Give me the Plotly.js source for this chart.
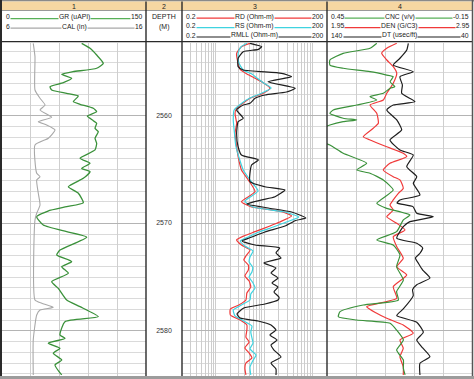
<!DOCTYPE html>
<html><head><meta charset="utf-8">
<script src="https://cdn.plot.ly/plotly-3.0.1.min.js"></script>
<style>html,body{margin:0;padding:0;background:#fff}#chart{width:474px;height:379px}</style>
</head><body><div id="chart"></div>
<script>
// ---------------- DATA ----------------
const grDepth = [2553.24,2553.70,2554.33,2555.10,2555.56,2555.88,2556.12,2556.49,2556.90,2557.27,2557.58,2557.89,2558.14,2558.67,2558.91,2559.28,2559.60,2560.00,2560.44,2560.68,2561.14,2561.46,2562.07,2562.54,2563.16,2563.93,2564.40,2564.87,2565.18,2565.80,2566.58,2567.19,2568.07,2568.44,2568.84,2569.37,2570.14,2570.76,2571.28,2572.47,2572.93,2573.55,2574.02,2574.63,2575.41,2576.03,2577.12,2577.74,2578.67,2579.13,2580.37,2580.68,2581.14,2581.61,2582.07,2582.70,2583.16,2584.09];
const grVal = [83.0,91.7,98.6,105.5,98.6,74.0,62.2,72.6,63.9,50.0,51.8,67.4,79.5,74.3,81.3,95.1,98.6,88.9,95.1,98.6,96.9,100.3,96.9,98.6,96.9,81.3,91.7,83.0,91.7,84.7,69.1,79.5,84.7,67.4,47.9,36.1,43.0,67.4,88.2,60.4,57.0,72.6,62.2,69.1,51.8,58.6,67.4,81.3,100.3,65.6,60.4,65.6,48.2,60.4,53.4,62.2,55.2,62.2];

const calDepth = [2553.24,2554.48,2557.58,2558.35,2558.98,2559.44,2560.12,2560.53,2560.84,2561.30,2562.07,2562.70,2565.33,2565.65,2565.95,2567.19,2568.28,2569.05,2569.67,2577.12,2577.42,2577.80,2578.05,2578.51,2580.84,2584.09];
const calVal = [8.17,8.29,8.29,8.64,8.99,8.64,9.45,8.52,9.10,9.68,9.22,8.29,8.41,8.64,8.41,8.52,8.64,8.41,8.29,8.29,8.76,9.56,8.64,8.41,8.17,8.17];

const rdDepth = [2553.24,2553.55,2554.17,2555.10,2555.66,2556.09,2556.49,2556.81,2557.42,2557.89,2558.35,2558.67,2559.28,2559.75,2560.68,2561.61,2562.86,2563.79,2565.02,2565.95,2567.04,2567.97,2568.44,2568.90,2569.30,2569.86,2570.23,2570.76,2571.16,2571.53,2572.00,2572.47,2573.02,2573.40,2573.86,2574.33,2574.88,2575.35,2575.91,2576.47,2577.12,2577.58,2577.95,2578.51,2578.98,2579.44,2579.91,2580.56,2581.02,2581.58,2582.05,2582.51,2582.98,2583.44,2584.09];
const rdVal = [5.1,3.4,2.7,2.9,3.2,4.4,6.5,8.9,13.2,9.6,5.1,4.0,2.7,2.5,2.7,2.5,2.7,2.9,3.4,4.7,6.5,3.4,5.3,23,37,21,13.2,6.5,3.8,2.7,3.4,5.1,4.2,3.8,4.7,4.7,4.0,4.9,5.3,4.4,4.2,3.0,2.0,2.0,3.2,4.4,4.4,4.2,4.9,4.0,4.9,5.6,4.2,4.0,4.2];

const rsDepth = [2553.24,2553.58,2554.14,2555.07,2555.72,2556.09,2556.47,2556.93,2557.40,2557.86,2558.33,2558.79,2559.44,2560.37,2561.30,2562.79,2563.81,2565.02,2565.95,2566.98,2567.91,2568.47,2568.93,2569.40,2569.86,2570.33,2570.79,2571.26,2571.63,2572.09,2572.56,2573.12,2573.58,2574.05,2574.51,2574.98,2575.53,2576.00,2576.56,2577.12,2577.58,2578.05,2578.60,2579.07,2579.53,2580.09,2580.65,2581.12,2581.67,2582.23,2582.79,2583.35,2584.09];
const rsVal = [4.4,3.3,2.9,3.0,3.7,5.6,7.1,9.8,14,9.1,5.1,3.5,2.4,2.3,2.4,2.6,3.0,3.7,5.1,7.5,4.0,5.9,27,52,29,15.5,7.8,4.7,3.2,4.0,5.9,5.1,4.9,5.8,5.6,4.9,5.9,6.5,5.3,5.1,3.4,2.3,2.5,3.8,5.6,5.3,5.6,5.9,5.1,6.8,5.8,5.1,5.3];

const rmllDepth = [2553.24,2553.55,2553.80,2554.02,2554.63,2555.41,2555.72,2556.03,2556.34,2556.81,2557.42,2557.77,2558.05,2558.35,2558.82,2558.98,2559.44,2560.21,2560.53,2561.61,2562.86,2563.63,2564.09,2564.56,2566.11,2566.58,2566.88,2567.51,2567.81,2568.19,2568.56,2568.93,2569.49,2569.72,2570.23,2570.79,2571.35,2571.63,2572.00,2572.28,2572.74,2573.21,2573.67,2574.14,2574.60,2575.07,2575.53,2575.91,2576.37,2576.84,2577.12,2577.49,2577.86,2578.42,2578.79,2579.07,2579.44,2579.91,2580.37,2580.84,2581.30,2581.77,2582.42,2582.98,2583.53,2584.09];
const rmllVal = [5.1,8.9,7.6,3.7,2.9,2.9,3.7,23,37,12,44,29,10.4,6.5,5.1,3.7,2.7,3.7,2.9,2.7,2.9,3.4,7.6,5.5,5.1,10.4,27,16.8,9.0,4.4,12.2,37,73,45,27,10.4,4.9,3.5,6.5,21,17.6,22.4,9.9,17.6,13.9,19.4,14.6,19.4,16.0,20.3,19.4,10.4,3.8,2.75,3.2,7.5,13.9,17.6,13.2,18.5,13.9,16.0,22.4,13.9,17.6,17.6];

const cncDepth = [2553.24,2553.70,2554.17,2554.79,2555.26,2555.56,2555.88,2556.19,2556.34,2556.81,2557.27,2557.42,2557.89,2558.20,2558.51,2558.98,2559.44,2559.75,2560.21,2560.37,2560.53,2560.84,2561.12,2561.67,2562.23,2562.70,2563.47,2564.40,2565.02,2565.33,2565.95,2566.88,2568.12,2568.59,2569.21,2569.67,2570.76,2571.53,2572.00,2572.93,2574.02,2575.26,2576.34,2577.12,2577.58,2578.20,2578.67,2578.98,2579.28,2579.91,2580.84,2581.77,2582.70,2583.47,2584.09];
const cncVal = [0.244,0.272,0.383,0.438,0.438,0.383,0.272,0.203,0.176,0.189,0.169,0.189,0.217,0.272,0.244,0.327,0.424,0.438,0.383,0.327,0.383,0.438,0.47,0.52,0.49,0.438,0.383,0.286,0.327,0.272,0.217,0.176,0.244,0.203,0.107,0.134,0.162,0.244,0.176,0.148,0.162,0.134,0.162,0.155,0.300,0.396,0.403,0.327,0.189,0.162,0.134,0.162,0.134,0.134,0.127];

const denDepth = [2553.24,2553.70,2554.17,2554.79,2555.41,2556.03,2556.96,2557.89,2558.51,2558.98,2559.75,2560.68,2561.14,2561.93,2562.23,2562.86,2563.47,2563.79,2564.40,2565.02,2565.65,2565.95,2566.73,2567.19,2567.81,2568.28,2568.74,2569.37,2569.98,2570.60,2571.23,2572.16,2573.24,2574.02,2574.79,2575.88,2576.96,2577.74,2578.35,2578.82,2579.44,2580.21,2580.84,2581.61,2582.39,2583.33,2584.09];
const denVal = [2.431,2.362,2.327,2.362,2.407,2.431,2.407,2.362,2.338,2.247,2.293,2.304,2.269,2.200,2.247,2.362,2.476,2.500,2.384,2.338,2.407,2.453,2.476,2.442,2.407,2.384,2.407,2.362,2.431,2.488,2.407,2.431,2.476,2.431,2.500,2.407,2.431,2.224,2.293,2.362,2.476,2.545,2.453,2.476,2.453,2.476,2.476];

const dtDepth = [2553.24,2553.86,2554.63,2555.26,2555.88,2556.34,2557.12,2557.89,2558.67,2558.98,2559.44,2560.37,2561.30,2562.23,2563.16,2563.63,2564.72,2565.65,2566.26,2567.35,2567.81,2568.09,2568.43,2569.05,2569.37,2569.83,2570.30,2571.38,2571.84,2572.28,2572.77,2573.21,2573.70,2574.33,2575.07,2575.70,2576.16,2576.71,2577.95,2578.57,2579.19,2580.12,2580.84,2581.58,2582.39,2583.00,2584.09];
const dtVal = [83.9,85.0,89.7,94.3,80.5,89.7,88.0,88.5,79.3,94.3,98.8,91.9,88.5,96.6,89.7,80.5,85.0,78.1,80.5,75.9,89.7,91.7,80.7,78.1,66.7,82.8,87.4,91.9,78.1,74.0,75.9,79.0,77.0,74.0,69.0,78.1,81.0,80.5,87.4,91.9,78.1,73.6,78.1,74.0,69.0,75.9,75.9];

const depthLabels = [2560, 2570, 2580];
const trackNumbers = ["1", "2", "3", "4"];
const legendLeft  = [["0","6"], [], ["0.2","0.2","0.2"], ["0.45","1.95","140"]];
const legendName  = [["GR (uAPI)","CAL (in)"], [], ["RD (Ohm-m)","RS (Ohm-m)","RMLL (Ohm-m)"], ["CNC (v/v)","DEN (G/C3)","DT (usec/ft)"]];
const legendRight = [["150","16"], [], ["200","200","200"], ["-0.15","2.95","40"]];

// ---------------- LAYOUT HELPERS ----------------
const W = 474, H = 379;
const px = x => x / W, py = y => 1 - y / H;
const tracks = [[2,146],[146,182],[182,327],[327,472]];
const PT = 43, PB = 375.5;
const yDom = [py(PB), py(PT)];
const yRange = [2584.14, 2553.21];
const FONT = "Liberation Sans, Arial, sans-serif";

const cGreen = '#3a913a', cRed = '#f03a3a', cCyan = '#3fd3e0', cBlack = '#1e1e1e', cGray = '#a8a8a8';
const legendColors = [[ '#58b058', cGray ], [], [ cRed, cCyan, cBlack ], [ '#58b058', cRed, cBlack ]];

// log grid positions for the resistivity track (1..9 x each decade)
const logGrid = [];
[0.1, 1, 10, 100].forEach(d => { for (let k = 1; k <= 9; k++) { const v = +(k*d).toPrecision(3); if (v >= 0.2 && v <= 200) logGrid.push(v); } });

function line(x, y, xa, ya, color, w) {
  return {type:'scatter', mode:'lines', x:x, y:y, xaxis:xa, yaxis:ya,
          line:{color:color, width:w, shape:'spline', smoothing:0.5}, hoverinfo:'skip'};
}
const traces = [
  line(grVal, grDepth, 'x', 'y', cGreen, 1.3),
  line(calVal, calDepth, 'x2', 'y', cGray, 1.1),
  line(rdVal, rdDepth, 'x4', 'y3', cRed, 1.2),
  line(rsVal, rsDepth, 'x4', 'y3', cCyan, 1.2),
  line(rmllVal, rmllDepth, 'x4', 'y3', cBlack, 1.2),
  line(denVal, denDepth, 'x5', 'y4', cRed, 1.2),
  line(cncVal, cncDepth, 'x6', 'y4', cGreen, 1.2),
  line(dtVal, dtDepth, 'x7', 'y4', cBlack, 1.2),
  {type:'scatter', mode:'text', x:depthLabels.map(() => 0.5), y:depthLabels,
   text:depthLabels.map(String), xaxis:'x3', yaxis:'y2',
   textfont:{family:FONT, size:7, color:'#333'}, hoverinfo:'skip', cliponaxis:false}
];

const hidden = {showticklabels:false, ticks:'', zeroline:false, showline:false, fixedrange:true};
const yBase = Object.assign({domain:yDom, range:yRange, dtick:10, tick0:2550, showgrid:true,
  gridcolor:'#b4b4b4', gridwidth:1,
  minor:{dtick:1, showgrid:true, gridcolor:'#dadada', gridwidth:1}}, hidden);

const layout = {
  width: W, height: H, margin:{l:0,r:0,t:0,b:0,pad:0},
  paper_bgcolor:'#fff', plot_bgcolor:'#fff', showlegend:false,
  xaxis: Object.assign({domain:[px(tracks[0][0]), px(tracks[0][1])], range:[0,150], dtick:30, tick0:0,
          showgrid:true, gridcolor:'#cfcfcf', anchor:'y'}, hidden),
  xaxis2: Object.assign({overlaying:'x', range:[6,16], showgrid:false, visible:false, anchor:'y'}, hidden),
  yaxis: Object.assign({}, yBase, {anchor:'x'}),
  xaxis3: Object.assign({domain:[px(tracks[1][0]), px(tracks[1][1])], range:[0,1], visible:false, showgrid:false, anchor:'y2'}, hidden),
  yaxis2: Object.assign({}, hidden, {domain:yDom, range:yRange, visible:false, showgrid:false, anchor:'x3'}),
  xaxis4: Object.assign({domain:[px(tracks[2][0]), px(tracks[2][1])], type:'log',
          range:[Math.log10(0.2), Math.log10(200)], tickmode:'array', tickvals:logGrid,
          showgrid:true, gridcolor:'#cdcdcd', gridwidth:1, anchor:'y3'}, hidden),
  yaxis3: Object.assign({}, yBase, {anchor:'x4'}),
  xaxis5: Object.assign({domain:[px(tracks[3][0]), px(tracks[3][1])], range:[1.95,2.95], dtick:0.2, tick0:1.95,
          showgrid:true, gridcolor:'#cfcfcf', anchor:'y4'}, hidden),
  xaxis6: Object.assign({overlaying:'x5', range:[0.45,-0.15], visible:false, showgrid:false, anchor:'y4'}, hidden),
  xaxis7: Object.assign({overlaying:'x5', range:[140,40], visible:false, showgrid:false, anchor:'y4'}, hidden),
  yaxis4: Object.assign({}, yBase, {anchor:'x5'}),
  shapes: [], annotations: []
};

const S = layout.shapes, A = layout.annotations;
function pline(x0,y0,x1,y1,color,w){ S.push({type:'line', xref:'paper', yref:'paper', x0:px(x0), y0:py(y0), x1:px(x1), y1:py(y1), line:{color:color, width:w}, layer:'above'}); }
function prect(x0,y0,x1,y1,fill){ S.push({type:'rect', xref:'paper', yref:'paper', x0:px(x0), y0:py(y0), x1:px(x1), y1:py(y1), fillcolor:fill, line:{width:0}, layer:'below'}); }

// frame & header band
prect(0,0,W,1.5,'#8a8a8a');
prect(1.5,1.5,472,10.3,'#f6d7a2');
prect(0,376,W,H,'#9c9c9c');
pline(0,10.5,472,10.5,'#9a9a9a',1);
pline(0,41.6,472,41.6,'#2a2a2a',1.4);
pline(1,0,1,376,'#2a2a2a',2);
pline(472.5,0,472.5,376,'#555',1.5);
[146,182,327].forEach(x => pline(x,1.5,x,376,'#2a2a2a',1.4));

// track numbers
tracks.forEach((t,i) => A.push({xref:'paper', yref:'paper', x:px((t[0]+t[1])/2), y:py(6.2), text:trackNumbers[i],
  showarrow:false, font:{family:FONT, size:7, color:'#222'}, xanchor:'center', yanchor:'middle'}));

// legend rows
const rowY = [[17,26.5],[],[16.6,26,35.4],[16.6,26,35.4]];
legendName.forEach((names,i) => {
  const t = tracks[i];
  names.forEach((nm,j) => {
    const y = rowY[i][j];
    pline(t[0]+4, y+1.6, t[1]-4, y+1.6, legendColors[i][j], 1.2);
    const base = {xref:'paper', yref:'paper', y:py(y), showarrow:false, yanchor:'middle',
      font:{family:FONT, size:6.8, color:'#222'}, bgcolor:'#ffffff', borderpad:0};
    A.push(Object.assign({}, base, {x:px(t[0]+2.5), text:legendLeft[i][j], xanchor:'left'}));
    A.push(Object.assign({}, base, {x:px((t[0]+t[1])/2), text:nm, xanchor:'center'}));
    A.push(Object.assign({}, base, {x:px(t[1]-2.5), text:legendRight[i][j], xanchor:'right'}));
  });
});
// depth header
A.push({xref:'paper', yref:'paper', x:px(164), y:py(17), text:'DEPTH', showarrow:false,
  font:{family:FONT, size:7, color:'#222'}, xanchor:'center', yanchor:'middle'});
A.push({xref:'paper', yref:'paper', x:px(164), y:py(26.5), text:'(M)', showarrow:false,
  font:{family:FONT, size:7, color:'#222'}, xanchor:'center', yanchor:'middle'});

Plotly.newPlot('chart', traces, layout, {staticPlot:true, displayModeBar:false});
</script>
</body></html>
